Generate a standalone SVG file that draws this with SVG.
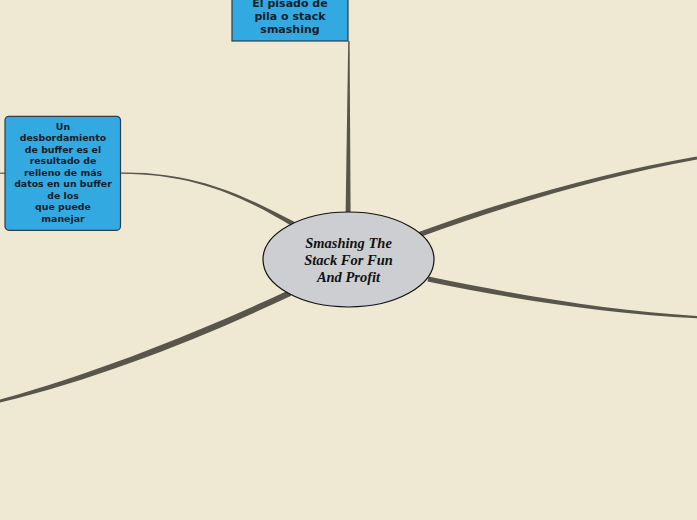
<svg xmlns="http://www.w3.org/2000/svg" width="697" height="520" viewBox="0 0 697 520">
<style>
.bg{fill:#EFE9D3}
.conn{fill:#58554B;stroke:none}
.box{fill:#33A9E1;stroke:#2E3D48;stroke-width:1.2}
.bt{font-family:"DejaVu Sans",sans-serif;font-weight:bold;fill:#14202A;text-anchor:middle}
.ct{font-family:"Liberation Serif",serif;font-weight:bold;font-style:italic;font-size:14.5px;fill:#111;text-anchor:middle}
</style>
<rect class="bg" x="0" y="0" width="697" height="520"/>
<g id="connectors">
<path class="conn" d="M348.2,41 L349.6,41 L350.6,214 L345.6,214 Z"/>
<path class="conn" d="M121,172.5 C200,171.5 250,199 296.2,222.8 L293.8,227.2 C250,201 200,173.8 121,173.8 Z"/>
<path class="conn" d="M0,172.6 L5,172.6 L5,173.8 L0,173.8 Z"/>
<path class="conn" d="M417.2,232.6 C497,203.6 597,173.5 696.7,156.5 L697.3,159.5 C603,176.5 503,206.4 418.8,237.4 Z"/>
<path class="conn" d="M428.5,276.6 C520,295.5 610,311 697,316 L697,318.2 C610,314 520,300.5 427.5,281.4 Z"/>
<path class="conn" d="M288.7,290.3 C199,332 99,372 0,399.5 L0,402.5 C101,378 201,338 291.3,295.7 Z"/>
</g>
<g id="center">
<ellipse cx="348.5" cy="259.5" rx="85.5" ry="47.5" fill="#CDCED2" stroke="#111" stroke-width="1.2"/>
<text class="ct" x="348.5" y="248">Smashing The</text>
<text class="ct" x="348.5" y="265">Stack For Fun</text>
<text class="ct" x="348.5" y="282">And Profit</text>
</g>
<g id="node-top">
<rect class="box" x="232" y="-10" width="116" height="51"/>
<text class="bt" font-size="11" x="290" y="7">El pisado de</text>
<text class="bt" font-size="11" x="290" y="20">pila o stack</text>
<text class="bt" font-size="11" x="290" y="33">smashing</text>
</g>
<g id="node-left">
<rect class="box" x="5" y="116.3" width="115.5" height="114" rx="4" ry="4"/>
<g class="bt" font-size="9.4">
<text x="63" y="129.5">Un</text>
<text x="63" y="141">desbordamiento</text>
<text x="63" y="152.6">de buffer es el</text>
<text x="63" y="164.1">resultado de</text>
<text x="63" y="175.7">relleno de más</text>
<text x="63" y="187.2">datos en un buffer</text>
<text x="63" y="198.8">de los</text>
<text x="63" y="210.3">que puede</text>
<text x="63" y="221.8">manejar</text>
</g>
</g>
</svg>
